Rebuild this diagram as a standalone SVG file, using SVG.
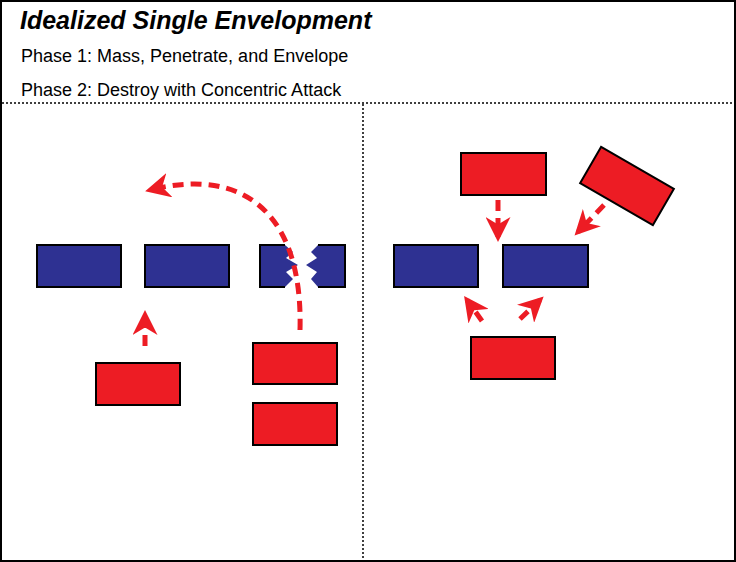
<svg xmlns="http://www.w3.org/2000/svg" width="736" height="562" viewBox="0 0 736 562">
<style>
.b{fill:#2e3192;stroke:#000;stroke-width:2}
.r{fill:#ed1c24;stroke:#000;stroke-width:2}
.a{fill:none;stroke:#ed1c24;stroke-width:5;stroke-dasharray:11,7;marker-end:url(#h)}
.t{font-family:"Liberation Sans",Arial,sans-serif;fill:#000}
.d{stroke:#000;stroke-width:1.5;stroke-dasharray:2,2}
</style>
<defs>
<marker id="h" viewBox="0 0 10 10" refX="8" refY="5" markerWidth="5" markerHeight="5" orient="auto" markerUnits="strokeWidth">
<path d="M0,0 L10,5 L0,10 L3,5 z" fill="#ed1c24"/>
</marker>
</defs>
<rect x="1" y="1" width="734" height="560" fill="#fff" stroke="#000" stroke-width="2"/>
<text class="t" x="20" y="29" font-size="25" font-weight="bold" font-style="italic">Idealized Single Envelopment</text>
<text class="t" x="21" y="62" font-size="18">Phase 1: Mass, Penetrate, and Envelope</text>
<text class="t" x="21" y="96" font-size="18">Phase 2: Destroy with Concentric Attack</text>
<line class="d" x1="2" y1="103" x2="734" y2="103"/>
<line class="d" x1="363" y1="104" x2="363" y2="561"/>
<g id="blue1"><rect class="b" x="37" y="245" width="84" height="42"/></g>
<g id="blue2"><rect class="b" x="145" y="245" width="84" height="42"/></g>
<g id="blue3">
<polygon fill="#2e3192" points="260,245 285,245 293,252 286,258 298,265 286,272 293,279 285,287 260,287"/>
<polygon fill="#2e3192" points="345,245 318,245 311,252 317,258 306,265 317,272 311,279 318,287 345,287"/>
<polyline fill="none" stroke="#000" stroke-width="2" points="285,245 260,245 260,287 285,287"/>
<polyline fill="none" stroke="#000" stroke-width="2" points="318,245 345,245 345,287 318,287"/>
</g>
<g id="blue4"><rect class="b" x="394" y="245" width="84" height="42"/></g>
<g id="blue5"><rect class="b" x="503" y="245" width="85" height="42"/></g>
<g id="red1"><rect class="r" x="96" y="363" width="84" height="42"/></g>
<g id="red2"><rect class="r" x="253" y="343" width="84" height="41"/></g>
<g id="red3"><rect class="r" x="253" y="403" width="84" height="42"/></g>
<g id="red4"><rect class="r" x="461" y="153" width="85" height="42"/></g>
<g id="red5"><rect class="r" x="-42" y="-21" width="84" height="42" transform="translate(627,186) rotate(30)"/></g>
<g id="red6"><rect class="r" x="471" y="337" width="84" height="42"/></g>
<g id="connectors">
<path class="a" d="M300,330 C303,220 250,165 150,190"/>
<path class="a" d="M145,346 L145,315"/>
<path class="a" d="M498,200 L498,237"/>
<path class="a" d="M604,205 L578,232"/>
<path class="a" d="M482,321 L467,300"/>
<path class="a" d="M520,319 L540,300"/>
</g>
</svg>
